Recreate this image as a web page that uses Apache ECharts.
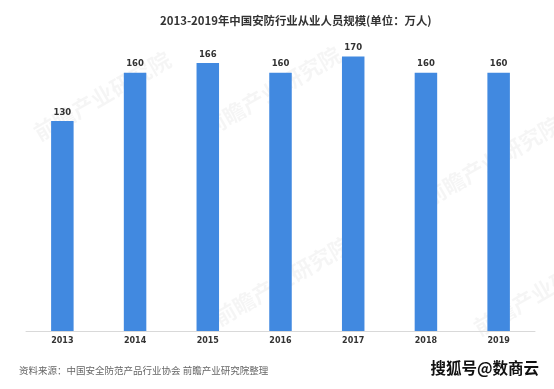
<!DOCTYPE html>
<html>
<head>
<meta charset="utf-8">
<script src="https://cdn.jsdelivr.net/npm/echarts@6/dist/echarts.min.js"></script>
<style>html,body{margin:0;padding:0;background:#fff}#c{width:554px;height:389px}</style>
</head>
<body>
<div id="c"></div>
<script>
var years = ['2013','2014','2015','2016','2017','2018','2019'];
var employees = [130,160,166,160,170,160,160];
var titleText = '2013-2019年中国安防行业从业人员规模(单位：万人)';
var sourceText = '资料来源：中国安全防范产品行业协会 前瞻产业研究院整理';
var stampText = '搜狐号@数商云';
var wmText = '前瞻产业研究院';

var chart = echarts.init(document.getElementById('c'));
var cjk = '"Noto Sans CJK SC", "Noto Sans", sans-serif';
var wm = [[30,125],[200,120],[420,190],[210,310],[470,320]].map(function(p){
  return {type:'text', x:p[0], y:p[1], rotation:Math.PI/6, silent:true, z:0,
    style:{text:wmText, font:'bold 22px ' + cjk, fill:'rgba(0,0,0,0.04)'}};
});
chart.setOption({
  animation:false,
  title:{text:titleText, left:155, top:10,
    textStyle:{fontSize:11.4, fontWeight:'bold', color:'#333', fontFamily:cjk}},
  grid:{left:26, right:19, top:40.4, bottom:58},
  xAxis:{type:'category', data:years,
    axisLine:{lineStyle:{color:'#d9d9d9'}},
    axisTick:{show:false},
    axisLabel:{fontSize:8, fontWeight:'bold', color:'#333', margin:6, fontFamily:'"DejaVu Sans", sans-serif'}},
  yAxis:{type:'value', min:0, max:180, show:false, splitLine:{show:false}},
  series:[{type:'bar', data:employees, barWidth:22.5,
    itemStyle:{color:'#4189E0'},
    label:{show:true, position:'top', distance:4, fontSize:8.5, fontWeight:'bold', color:'#333',
      fontFamily:'"DejaVu Sans", sans-serif'}}],
  graphic:wm.concat([
    {type:'text', left:19, top:366, style:{text:sourceText, font:'9.5px ' + cjk, fill:'#666'}},
    {type:'text', left:430, top:360, style:{text:stampText, font:'bold 15.5px ' + cjk,
      fill:'#111', stroke:'#fff', lineWidth:1}}
  ])
});
</script>
</body>
</html>
